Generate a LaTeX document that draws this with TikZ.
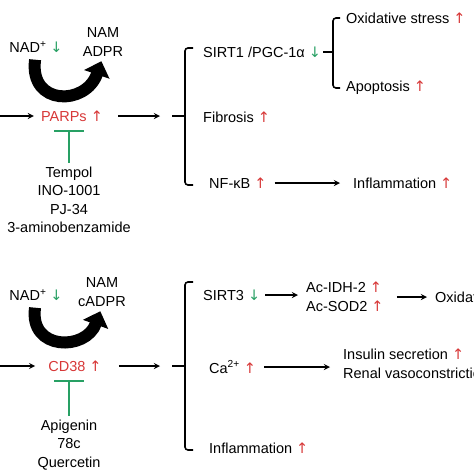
\documentclass[tikz,border=0pt]{standalone}
\usepackage{fontspec}
\setmainfont{Liberation Sans}
\newfontfamily\arrowfont{DejaVu Sans}
\usetikzlibrary{arrows,arrows.meta}
\definecolor{upred}{RGB}{215,55,55}
\definecolor{dngreen}{RGB}{40,160,100}
\newcommand{\uparr}{{\color{upred}\arrowfont ↑}}
\newcommand{\dnarr}{{\color{dngreen}\arrowfont ↓}}

\begin{document}
\begin{tikzpicture}[>=stealth, x=1pt, y=-1pt,
    font=\fontsize{14.5}{18.5}\selectfont,
    every node/.style={inner sep=0pt},
    link/.style={->, line width=1.7pt},
    brace/.style={line width=1.6pt, rounded corners=3pt},
    inhib/.style={dngreen, line width=2.5pt, -{Bar[width=30pt]}},
    turnover/.style={line width=12pt, -{Triangle[length=14pt,width=26pt]}}]
    \useasboundingbox (0,0) rectangle (474,474);
    \clip (0,0) rectangle (474,474);

    % PARP branch
    \coordinate (in1) at (0,116);
    \node (parps) at (72,116) {\color{upred}PARPs \uparr};
    \node (nad1) at (36,47) {NAD\textsuperscript{+} \dnarr};
    \node[align=center] (nam1) at (103,42) {NAM\\ADPR};
    \node[align=center] (tempol) at (69,200) {Tempol\\INO-1001\\PJ-34\\3-aminobenzamide};
    \draw[link, shorten >=7pt] (in1) -- (parps);
    \draw[turnover, shorten <=7pt, shorten >=5pt] (nad1.south) .. controls (29,106) and (86,106) .. (nam1.south);
    \draw[inhib, shorten <=4pt, shorten >=8pt] (tempol.north) -- (tempol.north |- parps.south);

    \coordinate (br1) at (172,116);
    \draw[link, shorten <=15pt, shorten >=12pt] (parps) -- (br1);
    \draw[brace] (193,48) -- (185,48) -- (185,185) -- (193,185);
    \draw[brace] (185,116) -- (br1);

    \node[anchor=west] (sirt1) at (203,52) {SIRT1 /PGC-1α \dnarr};
    \node[anchor=west] (fib) at (203,117) {Fibrosis \uparr};
    \node[anchor=west] (nfkb) at (209,183) {NF-κB \uparr};

    \coordinate (br2) at (323,52);
    \draw[brace] (340,18) -- (333,18) -- (333,88) -- (340,88);
    \draw[brace] (333,52) -- (br2);
    \node[anchor=west] (oxid1) at (346,18) {Oxidative stress \uparr};
    \node[anchor=west] (apop) at (346,88) {Apoptosis \uparr};

    \node[anchor=west] (infl1) at (353,183) {Inflammation \uparr};
    \draw[link, shorten <=8pt, shorten >=13pt] (nfkb) -- (infl1);

    % CD38 branch
    \coordinate (in2) at (0,366);
    \node (cd38) at (75,366) {\color{upred}CD38 \uparr};
    \node (nad2) at (36,295) {NAD\textsuperscript{+} \dnarr};
    \node[align=center] (nam2) at (102,292) {NAM\\cADPR};
    \node[align=center] (apig) at (69,445) {Apigenin\\78c\\Quercetin};
    \draw[link, shorten >=13pt] (in2) -- (cd38);
    \draw[turnover, shorten <=7pt, shorten >=5pt] (nad2.south) .. controls (29,351) and (86,351) .. (nam2.south);
    \draw[inhib, shorten <=4pt, shorten >=8pt] (apig.north) -- (apig.north |- cd38.south);

    \coordinate (br3) at (172,366);
    \draw[link, shorten <=17pt, shorten >=12pt] (cd38) -- (br3);
    \draw[brace] (193,282) -- (185,282) -- (185,450) -- (193,450);
    \draw[brace] (185,366) -- (br3);

    \node[anchor=west] (sirt3) at (203,295) {SIRT3 \dnarr};
    \node[anchor=west, align=left] (acet) at (306,297) {Ac-IDH-2 \uparr\\Ac-SOD2 \uparr};
    \node[anchor=west] (oxid2) at (435,297) {Oxidative stress \uparr};
    \draw[link, shorten <=5pt, shorten >=8pt] (sirt3) -- (sirt3 -| acet.west);
    \draw[link, shorten <=13pt, shorten >=8pt] (acet) -- (oxid2);

    \node[anchor=west] (ca) at (209,367) {Ca\textsuperscript{2+} \uparr};
    \node[anchor=west, align=left] (insulin) at (343,364) {Insulin secretion \uparr\\Renal vasoconstriction \uparr};
    \draw[link, shorten <=8pt, shorten >=13pt] (ca) -- (ca -| insulin.west);

    \node[anchor=west] (infl2) at (209,448) {Inflammation \uparr};
\end{tikzpicture}
\end{document}
